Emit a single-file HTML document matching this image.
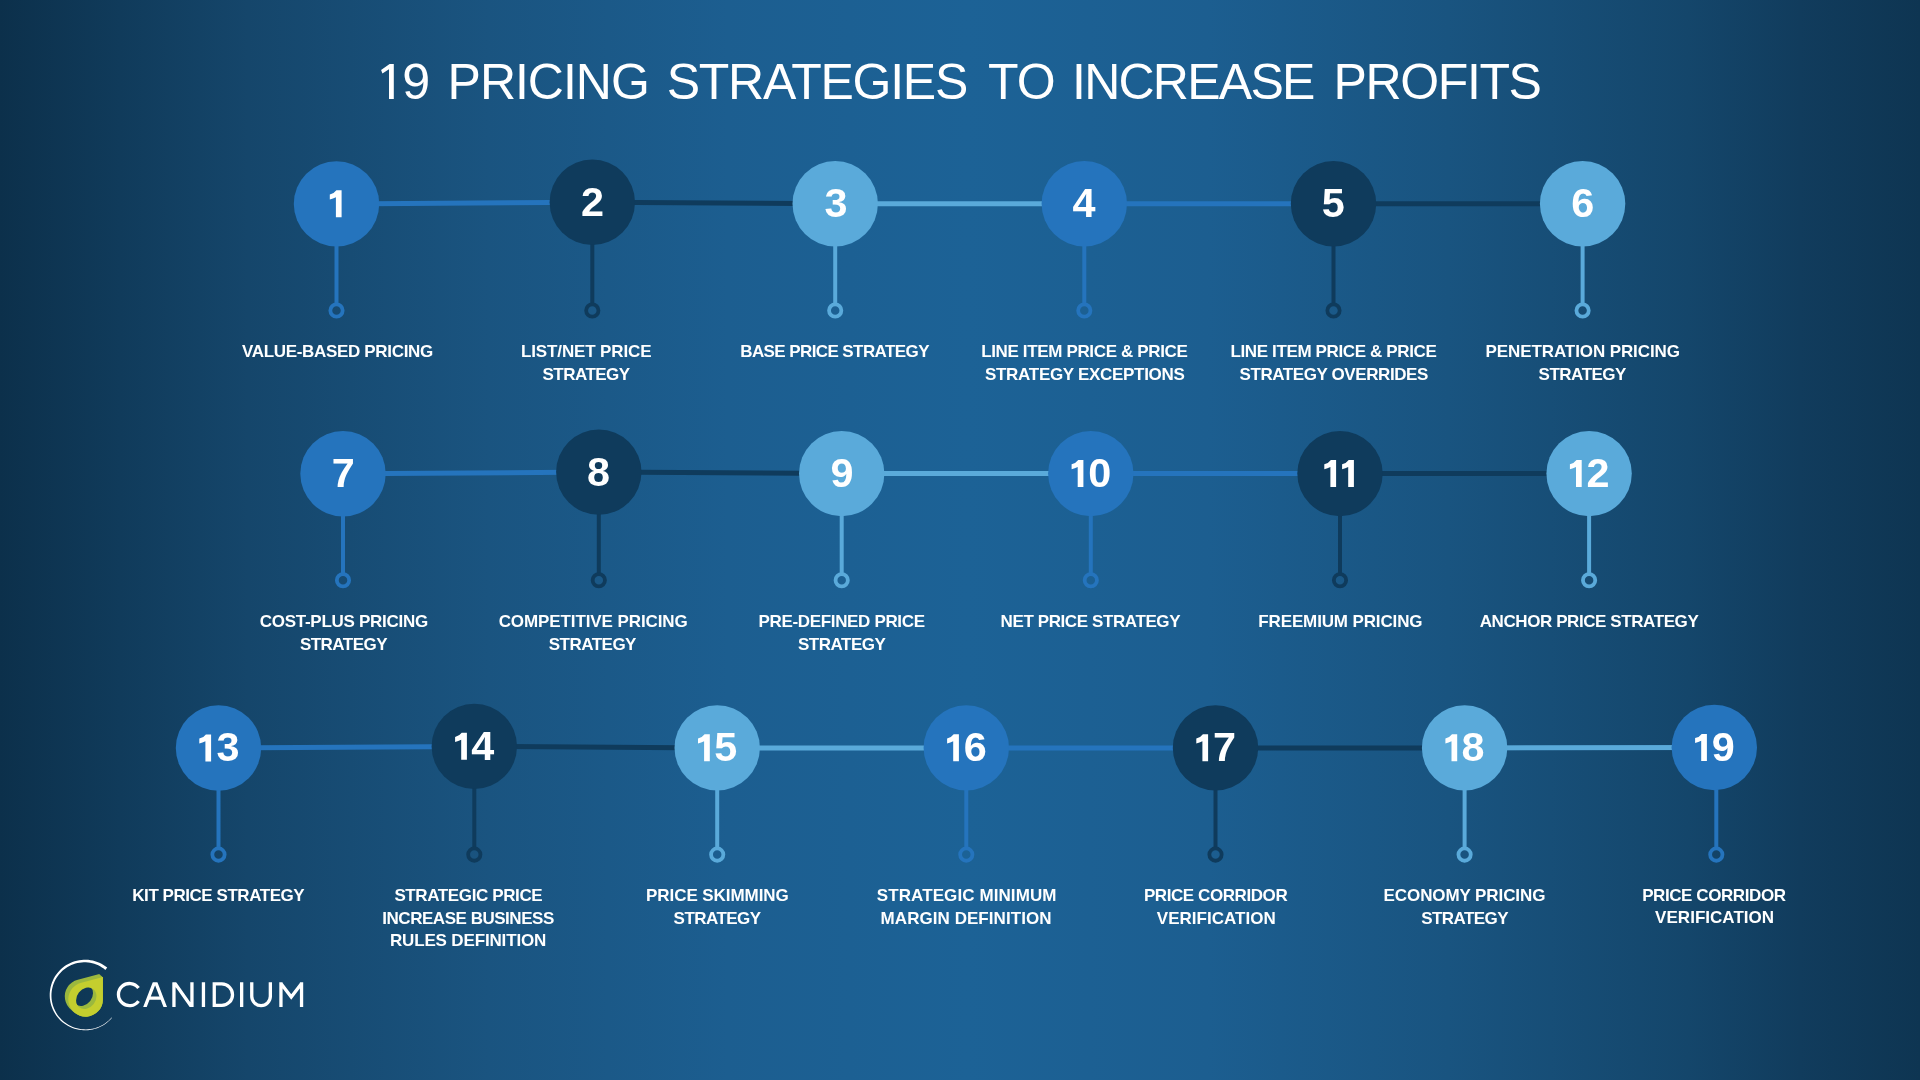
<!DOCTYPE html>
<html><head><meta charset="utf-8"><title>19 Pricing Strategies To Increase Profits</title>
<style>
html,body{margin:0;padding:0}
body{width:1920px;height:1080px;overflow:hidden;position:relative;font-family:"Liberation Sans",sans-serif;
background:linear-gradient(90deg,rgb(12,48,75) 0.00%,rgb(16,59,91) 6.25%,rgb(21,70,107) 12.92%,rgb(26,84,128) 25.42%,rgb(28,94,144) 37.92%,rgb(28,98,150) 50.42%,rgb(28,94,144) 62.92%,rgb(25,84,128) 75.42%,rgb(20,70,107) 87.92%,rgb(17,60,93) 93.75%,rgb(14,53,82) 100.00%);}
.l{position:absolute;white-space:nowrap;color:#fff;font-weight:bold;font-size:17px;line-height:20px;height:20px}
svg{position:absolute;left:0;top:0;will-change:transform}
#lb{position:absolute;left:0;top:0;width:1920px;height:1080px;will-change:transform}
svg text{font-family:"Liberation Sans",sans-serif}
</style></head><body>

<svg width="1920" height="1080" viewBox="0 0 1920 1080">
<g stroke-width="5">
<line x1="336.5" y1="203.9" x2="592.3" y2="202.3" stroke="#2574bd"/>
<line x1="592.3" y1="202.3" x2="835.2" y2="203.8" stroke="#0f3b5c"/>
<line x1="835.2" y1="203.8" x2="1084.3" y2="203.8" stroke="#5aaada"/>
<line x1="1084.3" y1="203.8" x2="1333.5" y2="203.8" stroke="#2574bd"/>
<line x1="1333.5" y1="203.8" x2="1582.6" y2="203.8" stroke="#0f3b5c"/>
</g>
<line x1="336.5" y1="245.6" x2="336.5" y2="303.8" stroke="#2574bd" stroke-width="4"/>
<circle cx="336.5" cy="310.5" r="6.15" fill="none" stroke="#2574bd" stroke-width="3.8"/>
<circle cx="336.5" cy="203.9" r="42.7" fill="#2574bd"/>
<line x1="592.3" y1="244" x2="592.3" y2="303.8" stroke="#0f3b5c" stroke-width="4"/>
<circle cx="592.3" cy="310.5" r="6.15" fill="none" stroke="#0f3b5c" stroke-width="3.8"/>
<circle cx="592.3" cy="202.3" r="42.7" fill="#0f3b5c"/>
<line x1="835.2" y1="245.5" x2="835.2" y2="303.8" stroke="#5aaada" stroke-width="4"/>
<circle cx="835.2" cy="310.5" r="6.15" fill="none" stroke="#5aaada" stroke-width="3.8"/>
<circle cx="835.2" cy="203.8" r="42.7" fill="#5aaada"/>
<line x1="1084.3" y1="245.5" x2="1084.3" y2="303.8" stroke="#2574bd" stroke-width="4"/>
<circle cx="1084.3" cy="310.5" r="6.15" fill="none" stroke="#2574bd" stroke-width="3.8"/>
<circle cx="1084.3" cy="203.8" r="42.7" fill="#2574bd"/>
<line x1="1333.5" y1="245.5" x2="1333.5" y2="303.8" stroke="#0f3b5c" stroke-width="4"/>
<circle cx="1333.5" cy="310.5" r="6.15" fill="none" stroke="#0f3b5c" stroke-width="3.8"/>
<circle cx="1333.5" cy="203.8" r="42.7" fill="#0f3b5c"/>
<line x1="1582.6" y1="245.5" x2="1582.6" y2="303.8" stroke="#5aaada" stroke-width="4"/>
<circle cx="1582.6" cy="310.5" r="6.15" fill="none" stroke="#5aaada" stroke-width="3.8"/>
<circle cx="1582.6" cy="203.8" r="42.7" fill="#5aaada"/>
<g stroke-width="5">
<line x1="343" y1="473.7" x2="598.8" y2="472.1" stroke="#2574bd"/>
<line x1="598.8" y1="472.1" x2="841.7" y2="473.6" stroke="#0f3b5c"/>
<line x1="841.7" y1="473.6" x2="1090.8" y2="473.6" stroke="#5aaada"/>
<line x1="1090.8" y1="473.6" x2="1340" y2="473.6" stroke="#2574bd"/>
<line x1="1340" y1="473.6" x2="1589.1" y2="473.6" stroke="#0f3b5c"/>
</g>
<line x1="343" y1="515.4" x2="343" y2="573.6" stroke="#2574bd" stroke-width="4"/>
<circle cx="343" cy="580.3" r="6.15" fill="none" stroke="#2574bd" stroke-width="3.8"/>
<circle cx="343" cy="473.7" r="42.7" fill="#2574bd"/>
<line x1="598.8" y1="513.8" x2="598.8" y2="573.6" stroke="#0f3b5c" stroke-width="4"/>
<circle cx="598.8" cy="580.3" r="6.15" fill="none" stroke="#0f3b5c" stroke-width="3.8"/>
<circle cx="598.8" cy="472.1" r="42.7" fill="#0f3b5c"/>
<line x1="841.7" y1="515.3" x2="841.7" y2="573.6" stroke="#5aaada" stroke-width="4"/>
<circle cx="841.7" cy="580.3" r="6.15" fill="none" stroke="#5aaada" stroke-width="3.8"/>
<circle cx="841.7" cy="473.6" r="42.7" fill="#5aaada"/>
<line x1="1090.8" y1="515.3" x2="1090.8" y2="573.6" stroke="#2574bd" stroke-width="4"/>
<circle cx="1090.8" cy="580.3" r="6.15" fill="none" stroke="#2574bd" stroke-width="3.8"/>
<circle cx="1090.8" cy="473.6" r="42.7" fill="#2574bd"/>
<line x1="1340" y1="515.3" x2="1340" y2="573.6" stroke="#0f3b5c" stroke-width="4"/>
<circle cx="1340" cy="580.3" r="6.15" fill="none" stroke="#0f3b5c" stroke-width="3.8"/>
<circle cx="1340" cy="473.6" r="42.7" fill="#0f3b5c"/>
<line x1="1589.1" y1="515.3" x2="1589.1" y2="573.6" stroke="#5aaada" stroke-width="4"/>
<circle cx="1589.1" cy="580.3" r="6.15" fill="none" stroke="#5aaada" stroke-width="3.8"/>
<circle cx="1589.1" cy="473.6" r="42.7" fill="#5aaada"/>
<g stroke-width="5">
<line x1="218.5" y1="748" x2="474.3" y2="746.4" stroke="#2574bd"/>
<line x1="474.3" y1="746.4" x2="717.2" y2="747.9" stroke="#0f3b5c"/>
<line x1="717.2" y1="747.9" x2="966.3" y2="747.9" stroke="#5aaada"/>
<line x1="966.3" y1="747.9" x2="1215.5" y2="747.9" stroke="#2574bd"/>
<line x1="1215.5" y1="747.9" x2="1464.6" y2="747.9" stroke="#0f3b5c"/>
<line x1="1464.6" y1="747.9" x2="1714.3" y2="747.5" stroke="#5aaada"/>
</g>
<line x1="218.5" y1="789.7" x2="218.5" y2="847.9" stroke="#2574bd" stroke-width="4"/>
<circle cx="218.5" cy="854.6" r="6.15" fill="none" stroke="#2574bd" stroke-width="3.8"/>
<circle cx="218.5" cy="748" r="42.7" fill="#2574bd"/>
<line x1="474.3" y1="788.1" x2="474.3" y2="847.9" stroke="#0f3b5c" stroke-width="4"/>
<circle cx="474.3" cy="854.6" r="6.15" fill="none" stroke="#0f3b5c" stroke-width="3.8"/>
<circle cx="474.3" cy="746.4" r="42.7" fill="#0f3b5c"/>
<line x1="717.2" y1="789.6" x2="717.2" y2="847.9" stroke="#5aaada" stroke-width="4"/>
<circle cx="717.2" cy="854.6" r="6.15" fill="none" stroke="#5aaada" stroke-width="3.8"/>
<circle cx="717.2" cy="747.9" r="42.7" fill="#5aaada"/>
<line x1="966.3" y1="789.6" x2="966.3" y2="847.9" stroke="#2574bd" stroke-width="4"/>
<circle cx="966.3" cy="854.6" r="6.15" fill="none" stroke="#2574bd" stroke-width="3.8"/>
<circle cx="966.3" cy="747.9" r="42.7" fill="#2574bd"/>
<line x1="1215.5" y1="789.6" x2="1215.5" y2="847.9" stroke="#0f3b5c" stroke-width="4"/>
<circle cx="1215.5" cy="854.6" r="6.15" fill="none" stroke="#0f3b5c" stroke-width="3.8"/>
<circle cx="1215.5" cy="747.9" r="42.7" fill="#0f3b5c"/>
<line x1="1464.6" y1="789.6" x2="1464.6" y2="847.9" stroke="#5aaada" stroke-width="4"/>
<circle cx="1464.6" cy="854.6" r="6.15" fill="none" stroke="#5aaada" stroke-width="3.8"/>
<circle cx="1464.6" cy="747.9" r="42.7" fill="#5aaada"/>
<line x1="1716.3" y1="789.2" x2="1716.3" y2="847.9" stroke="#2574bd" stroke-width="4"/>
<circle cx="1716.3" cy="854.6" r="6.15" fill="none" stroke="#2574bd" stroke-width="3.8"/>
<circle cx="1714.3" cy="747.5" r="42.7" fill="#2574bd"/>
<g fill="#fff" font-weight="bold" font-size="40">
<path d="M341.6 217.3H335.9V197.2Q333.1 198.7 329.8 199.5V194.5Q334.2 193.5 336.4 190.3H341.6Z"/>
<text transform="translate(592.4 215.7) scale(1.035 1)" x="-11" y="0">2</text>
<text transform="translate(835.3 217.2) scale(1.035 1)" x="-10.5" y="0">3</text>
<text transform="translate(1084.4 217.2) scale(1.035 1)" x="-11.5" y="0">4</text>
<text transform="translate(1333.6 217.2) scale(1.035 1)" x="-11.5" y="0">5</text>
<text transform="translate(1582.7 217.2) scale(1.035 1)" x="-11" y="0">6</text>
<text transform="translate(343.1 487.1) scale(1.035 1)" x="-11" y="0">7</text>
<text transform="translate(598.9 485.5) scale(1.035 1)" x="-11.5" y="0">8</text>
<text transform="translate(841.8 487) scale(1.035 1)" x="-11" y="0">9</text>
<path d="M1083.4 487H1077.7V466.9Q1074.9 468.4 1071.6 469.2V464.2Q1076 463.2 1078.2 460H1083.4Z"/>
<text transform="translate(1099.7 487) scale(1.035 1)" x="-11" y="0">0</text>
<path d="M1336.1 487H1330.4V466.9Q1327.6 468.4 1324.3 469.2V464.2Q1328.7 463.2 1330.9 460H1336.1Z M1353.9 487H1348.2V466.9Q1345.4 468.4 1342.1 469.2V464.2Q1346.5 463.2 1348.7 460H1353.9Z"/>
<path d="M1581.7 487H1576V466.9Q1573.2 468.4 1569.9 469.2V464.2Q1574.3 463.2 1576.5 460H1581.7Z"/>
<text transform="translate(1598 487) scale(1.035 1)" x="-11" y="0">2</text>
<path d="M211.1 761.4H205.4V741.3Q202.6 742.8 199.3 743.6V738.6Q203.7 737.6 205.9 734.4H211.1Z"/>
<text transform="translate(227.4 761.4) scale(1.035 1)" x="-10.5" y="0">3</text>
<path d="M466.9 759.8H461.2V739.7Q458.4 741.2 455.1 742V737Q459.5 736 461.7 732.8H466.9Z"/>
<text transform="translate(483.2 759.8) scale(1.035 1)" x="-11.5" y="0">4</text>
<path d="M709.8 761.3H704.1V741.2Q701.3 742.7 698 743.5V738.5Q702.4 737.5 704.6 734.3H709.8Z"/>
<text transform="translate(726.1 761.3) scale(1.035 1)" x="-11.5" y="0">5</text>
<path d="M958.9 761.3H953.2V741.2Q950.4 742.7 947.1 743.5V738.5Q951.5 737.5 953.7 734.3H958.9Z"/>
<text transform="translate(975.2 761.3) scale(1.035 1)" x="-11" y="0">6</text>
<path d="M1208.1 761.3H1202.4V741.2Q1199.6 742.7 1196.3 743.5V738.5Q1200.7 737.5 1202.9 734.3H1208.1Z"/>
<text transform="translate(1224.4 761.3) scale(1.035 1)" x="-11" y="0">7</text>
<path d="M1457.2 761.3H1451.5V741.2Q1448.7 742.7 1445.4 743.5V738.5Q1449.8 737.5 1452 734.3H1457.2Z"/>
<text transform="translate(1473.5 761.3) scale(1.035 1)" x="-11.5" y="0">8</text>
<path d="M1706.9 760.9H1701.2V740.8Q1698.4 742.3 1695.1 743.1V738.1Q1699.5 737.1 1701.7 733.9H1706.9Z"/>
<text transform="translate(1723.2 760.9) scale(1.035 1)" x="-11" y="0">9</text>
</g>
<g fill="#fff" font-size="50" stroke="#fff" stroke-width="0">
<text transform="translate(404.2 98.9) scale(1.004 1)" x="-2" y="0">9</text>
<text x="447.6" y="98.9" letter-spacing="-1.026">PRICING</text>
<text x="666.8" y="98.9" letter-spacing="-1.285">STRATEGIES</text>
<text x="988" y="98.9" letter-spacing="-0.839">TO</text>
<text x="1072" y="98.9" letter-spacing="-1.752">INCREASE</text>
<text x="1333.5" y="98.9" letter-spacing="-1.371">PROFITS</text>
<path stroke="none" d="M393.8 63.9H389.6L381.1 69.9L382.4 73.6L389 69.2V98.9H393.8Z"/>
</g>
<path fill="#fff" d="M107.22 967.57L105.38 966.18L103.46 964.91L101.46 963.77L99.39 962.77L97.26 961.9L95.07 961.17L92.85 960.58L90.59 960.15L88.31 959.86L86.01 959.71L83.71 959.72L81.41 959.88L79.13 960.19L76.88 960.65L74.65 961.25L72.48 962L70.35 962.88L68.29 963.9L66.3 965.06L64.39 966.34L62.57 967.75L60.84 969.27L59.21 970.89L57.7 972.63L56.3 974.45L55.02 976.37L53.87 978.36L52.85 980.42L51.97 982.55L51.23 984.73L50.63 986.95L50.18 989.21L49.88 991.49L49.72 993.79L49.72 996.09L49.86 998.38L50.16 1000.67L50.6 1002.92L51.19 1005.15L51.92 1007.33L52.8 1009.46L53.81 1011.53L54.95 1013.52L56.22 1015.44L57.62 1017.27L59.12 1019.01L60.74 1020.65L62.47 1022.17L64.29 1023.58L66.19 1024.87L68.18 1026.03L70.24 1027.06L72.36 1027.96L74.53 1028.71L76.75 1029.32L79.01 1029.79L81.28 1030.1L83.58 1030.27L85.88 1030.29L88.18 1030.16L90.46 1029.87L92.72 1029.44L94.95 1028.87L97.14 1028.15L99.27 1027.29L101.35 1026.29L103.35 1025.16L105.28 1023.9L107.12 1022.51L108.86 1021.01L110.51 1019.4L112.04 1017.69L111.73 1017.43L110.19 1019.1L108.54 1020.67L106.8 1022.12L104.96 1023.45L103.05 1024.66L101.06 1025.74L99.01 1026.69L96.9 1027.5L94.75 1028.17L92.56 1028.7L90.34 1029.09L88.1 1029.33L85.86 1029.42L83.62 1029.37L81.38 1029.17L79.17 1028.82L76.99 1028.34L74.84 1027.71L72.75 1026.94L70.71 1026.05L68.73 1025.02L66.83 1023.86L65.01 1022.59L63.28 1021.2L61.64 1019.7L60.11 1018.1L58.68 1016.41L57.37 1014.63L56.18 1012.76L55.12 1010.83L54.18 1008.84L53.38 1006.79L52.71 1004.69L52.19 1002.56L51.8 1000.4L51.55 998.22L51.45 996.03L51.49 993.85L51.67 991.67L52 989.51L52.46 987.38L53.06 985.29L53.8 983.24L54.66 981.24L55.65 979.31L56.77 977.45L58 975.67L59.35 973.98L60.8 972.38L62.35 970.87L63.99 969.48L65.72 968.19L67.53 967.02L69.4 965.97L71.34 965.05L73.34 964.26L75.38 963.6L77.45 963.08L79.55 962.69L81.67 962.44L83.8 962.32L85.93 962.35L88.06 962.52L90.16 962.82L92.24 963.26L94.28 963.84L96.28 964.54L98.23 965.37L100.11 966.33L101.93 967.41L103.67 968.6L105.33 969.9Z"/>
<defs><clipPath id="hc"><ellipse cx="86.3" cy="998.2" rx="11.4" ry="9.4" transform="rotate(-52 86.3 998.2)"/></clipPath>
<mask id="lm" maskUnits="userSpaceOnUse" x="40" y="950" width="90" height="90"><rect x="40" y="950" width="90" height="90" fill="#fff"/>
<g clip-path="url(#hc)"><ellipse cx="82.8" cy="995.2" rx="11.4" ry="9.4" transform="rotate(-52 82.8 995.2)" fill="#000"/></g></mask></defs>
<g mask="url(#lm)">
<path fill="#9bb83e" d="M102.9 977.1L102.9 999.4A17.3 17.3 0 1 1 81.3 982.64ZM102.46 976.73L102.46 999.02A17.3 17.3 0 1 1 80.86 982.27ZM102.03 976.35L102.02 998.65A17.3 17.3 0 1 1 80.42 981.89ZM101.59 975.98L101.59 998.27A17.3 17.3 0 1 1 79.99 981.52ZM101.15 975.6L101.15 997.9A17.3 17.3 0 1 1 79.55 981.14ZM100.71 975.23L100.71 997.52A17.3 17.3 0 1 1 79.11 980.77ZM100.28 974.85L100.27 997.15A17.3 17.3 0 1 1 78.67 980.39ZM99.84 974.48L99.84 996.77A17.3 17.3 0 1 1 78.24 980.02ZM99.4 974.1L99.4 996.4A17.3 17.3 0 1 1 77.8 979.64Z"/>
<path fill="#c4ce2e" d="M102.9 977.1L102.9 999.4A17.3 17.3 0 1 1 81.3 982.64Z"/>
<ellipse cx="86.3" cy="998.2" rx="11.4" ry="9.4" transform="rotate(-52 86.3 998.2)" fill="#9bb83e"/>
</g>
<clipPath id="wc"><rect x="110" y="982.3" width="200" height="24.7"/></clipPath>
<g fill="none" stroke="#fff" stroke-width="3.3" stroke-miterlimit="10"><path d="M138.53 988.08A11.1 11.1 0 1 0 138.53 1001.12M203.45 982.3V1007.0M214.25 1007.0V983.95H221.85A10.7 10.7 0 0 1 221.85 1005.35H214.25M241.65 982.3V1007.0M251.75 982.3V996.35A9.3 9.3 0 0 0 270.35 996.35V982.3"/>
<path clip-path="url(#wc)" d="M143.79 1010L155.66 979.3M166.41 1010L154.54 979.3M147.94 998.2L162.26 998.2M173.95 1010.0V979.3M191.95 1010.0V979.3M193.76 1010L172.14 979.3M280.95 1010.0V979.3M301.55 1010.0V979.3M281.15 983.65L291.25 997L301.35 983.65"/></g>
</svg>
<div id="lb">
<div class="l" style="left:242px;top:342px;letter-spacing:-0.326px">VALUE-BASED PRICING</div>
<div class="l" style="left:521px;top:342px;letter-spacing:-0.130px">LIST/NET PRICE</div>
<div class="l" style="left:542.5px;top:365px;letter-spacing:-0.523px">STRATEGY</div>
<div class="l" style="left:740.2px;top:342px;letter-spacing:-0.589px">BASE PRICE STRATEGY</div>
<div class="l" style="left:981.2px;top:342px;letter-spacing:-0.353px">LINE ITEM PRICE &amp; PRICE</div>
<div class="l" style="left:985px;top:365px;letter-spacing:-0.304px">STRATEGY EXCEPTIONS</div>
<div class="l" style="left:1230.4px;top:342px;letter-spacing:-0.362px">LINE ITEM PRICE &amp; PRICE</div>
<div class="l" style="left:1239.5px;top:365px;letter-spacing:-0.413px">STRATEGY OVERRIDES</div>
<div class="l" style="left:1485.6px;top:342px;letter-spacing:-0.101px">PENETRATION PRICING</div>
<div class="l" style="left:1538.6px;top:365px;letter-spacing:-0.494px">STRATEGY</div>
<div class="l" style="left:259.8px;top:612px;letter-spacing:-0.277px">COST-PLUS PRICING</div>
<div class="l" style="left:299.9px;top:635px;letter-spacing:-0.523px">STRATEGY</div>
<div class="l" style="left:498.7px;top:612px;letter-spacing:-0.098px">COMPETITIVE PRICING</div>
<div class="l" style="left:548.8px;top:635px;letter-spacing:-0.523px">STRATEGY</div>
<div class="l" style="left:758.5px;top:612px;letter-spacing:-0.336px">PRE-DEFINED PRICE</div>
<div class="l" style="left:798px;top:635px;letter-spacing:-0.494px">STRATEGY</div>
<div class="l" style="left:1000.6px;top:612px;letter-spacing:-0.398px">NET PRICE STRATEGY</div>
<div class="l" style="left:1258.3px;top:612px;letter-spacing:-0.133px">FREEMIUM PRICING</div>
<div class="l" style="left:1479.7px;top:612px;letter-spacing:-0.413px">ANCHOR PRICE STRATEGY</div>
<div class="l" style="left:132.3px;top:886px;letter-spacing:-0.456px">KIT PRICE STRATEGY</div>
<div class="l" style="left:394.4px;top:886px;letter-spacing:-0.386px">STRATEGIC PRICE</div>
<div class="l" style="left:382.3px;top:909px;letter-spacing:-0.471px">INCREASE BUSINESS</div>
<div class="l" style="left:389.9px;top:931px;letter-spacing:-0.146px">RULES DEFINITION</div>
<div class="l" style="left:646.1px;top:886px;letter-spacing:-0.072px">PRICE SKIMMING</div>
<div class="l" style="left:673.6px;top:909px;letter-spacing:-0.552px">STRATEGY</div>
<div class="l" style="left:876.8px;top:886px;letter-spacing:0.093px">STRATEGIC MINIMUM</div>
<div class="l" style="left:880.6px;top:909px;letter-spacing:0.055px">MARGIN DEFINITION</div>
<div class="l" style="left:1143.9px;top:886px;letter-spacing:-0.420px">PRICE CORRIDOR</div>
<div class="l" style="left:1156.8px;top:909px;letter-spacing:0.027px">VERIFICATION</div>
<div class="l" style="left:1383.6px;top:886px;letter-spacing:-0.091px">ECONOMY PRICING</div>
<div class="l" style="left:1421.2px;top:909px;letter-spacing:-0.566px">STRATEGY</div>
<div class="l" style="left:1642.2px;top:886px;letter-spacing:-0.420px">PRICE CORRIDOR</div>
<div class="l" style="left:1655.1px;top:908px;letter-spacing:0.027px">VERIFICATION</div>
</div>
</body></html>
